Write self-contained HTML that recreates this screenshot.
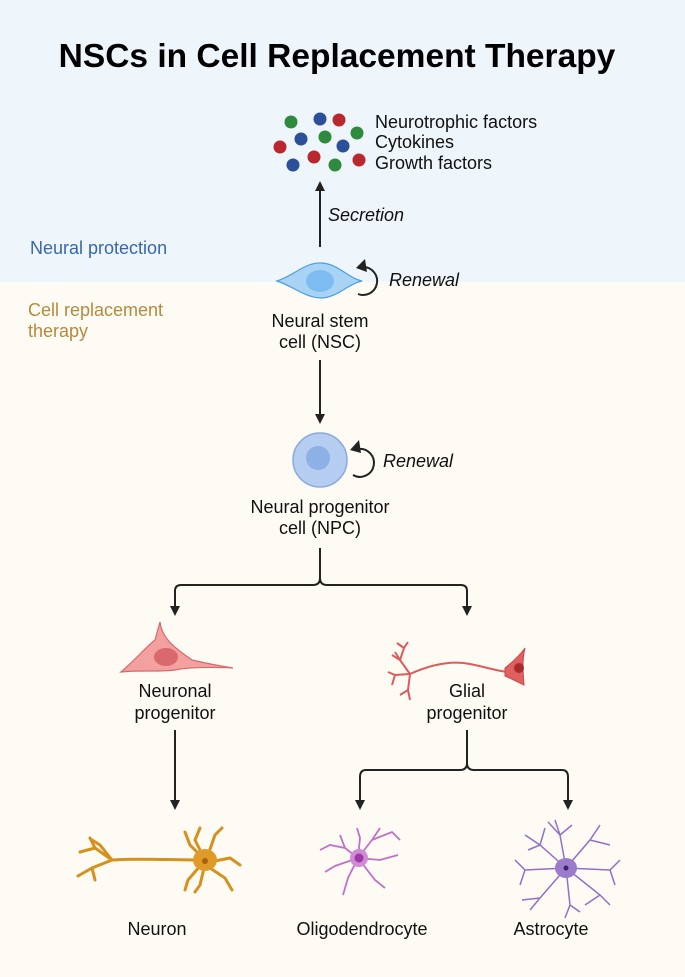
<!DOCTYPE html>
<html><head><meta charset="utf-8"><style>
html,body{margin:0;padding:0;width:685px;height:977px;overflow:hidden;background:#fdfbf3}
svg{display:block;font-family:"Liberation Sans",sans-serif}
</style></head><body>
<svg width="685" height="977" viewBox="0 0 685 977" xmlns="http://www.w3.org/2000/svg">
<defs><marker id="ah" viewBox="0 0 10 10" refX="8" refY="5" markerWidth="5" markerHeight="5" orient="auto-start-reverse"><path d="M0,0L10,5L0,10z" fill="#222"/></marker></defs>
<rect x="0" y="0" width="685" height="282" fill="#eef5fb"/>
<rect x="0" y="282" width="685" height="695" fill="#fdfbf3"/>
<text x="337" y="67" text-anchor="middle" font-size="33.5" font-weight="bold" fill="#000">NSCs in Cell Replacement Therapy</text>
<g stroke="none">
<circle cx="291" cy="122" r="6.5" fill="#2e8b3e"/><circle cx="320" cy="119" r="6.5" fill="#2c4f9a"/><circle cx="339" cy="120" r="6.5" fill="#b8282e"/>
<circle cx="301" cy="139" r="6.5" fill="#2c4f9a"/><circle cx="325" cy="137" r="6.5" fill="#2e8b3e"/><circle cx="357" cy="133" r="6.5" fill="#2e8b3e"/>
<circle cx="280" cy="147" r="6.5" fill="#b8282e"/><circle cx="343" cy="146" r="6.5" fill="#2c4f9a"/><circle cx="314" cy="157" r="6.5" fill="#b8282e"/>
<circle cx="293" cy="165" r="6.5" fill="#2c4f9a"/><circle cx="335" cy="165" r="6.5" fill="#2e8b3e"/><circle cx="359" cy="160" r="6.5" fill="#b8282e"/>
</g>
<g font-size="18" fill="#111"><text x="375" y="128">Neurotrophic factors</text><text x="375" y="148">Cytokines</text><text x="375" y="169">Growth factors</text></g>
<line x1="320" y1="247" x2="320" y2="183" stroke="#222" stroke-width="2" marker-end="url(#ah)"/>
<text x="328" y="221" font-size="18" font-style="italic" fill="#111">Secretion</text>
<text x="30" y="254" font-size="18" fill="#3a66ad">Neural protection</text>
<text x="28" y="316" font-size="18" fill="#b68a3c">Cell replacement</text>
<text x="28" y="337" font-size="18" fill="#b68a3c">therapy</text>
<!-- NSC -->
<path d="M277,281 C295,275 305,262 322,263 C338,264 348,278 362,281 C348,284 338,297 322,298 C305,298 295,287 277,281Z" fill="#a9d3f5" stroke="#4a9ee0" stroke-width="1.2"/>
<ellipse cx="320" cy="281" rx="14" ry="11" fill="#7cbcf1"/>
<path d="M364,267 A14,14 0 1 1 358,294" fill="none" stroke="#222" stroke-width="2"/>
<path d="M356,268 L365,259 L367,272Z" fill="#222"/>
<text x="389" y="286" font-size="18" font-style="italic" fill="#111">Renewal</text>
<text x="320" y="327" text-anchor="middle" font-size="18" fill="#111">Neural stem</text>
<text x="320" y="348" text-anchor="middle" font-size="18" fill="#111">cell (NSC)</text>
<line x1="320" y1="360" x2="320" y2="422" stroke="#222" stroke-width="2" marker-end="url(#ah)"/>
<!-- NPC -->
<circle cx="320" cy="460" r="27" fill="#b5cdf0" stroke="#8aaadd" stroke-width="1.5"/>
<circle cx="318" cy="458" r="12" fill="#8db0e6"/>
<path d="M358,449 A14,14 0 1 1 353,475" fill="none" stroke="#222" stroke-width="2"/>
<path d="M350,450 L359,440 L361,453Z" fill="#222"/>
<text x="383" y="467" font-size="18" font-style="italic" fill="#111">Renewal</text>
<text x="320" y="513" text-anchor="middle" font-size="18" fill="#111">Neural progenitor</text>
<text x="320" y="534" text-anchor="middle" font-size="18" fill="#111">cell (NPC)</text>
<path d="M320,548 V578 Q320,585 313,585 H181 Q175,585 175,591 V614" fill="none" stroke="#222" stroke-width="2" marker-end="url(#ah)"/>
<path d="M320,578 Q320,585 327,585 H461 Q467,585 467,591 V614" fill="none" stroke="#222" stroke-width="2" marker-end="url(#ah)"/>
<!-- Neuronal progenitor -->
<path d="M121,672 C135,660 145,648 155,640 L160,622 C162,640 178,650 192,660 C205,663 220,666 233,668 C210,667 190,667 175,670 C160,672 140,670 121,672Z" fill="#f2a0a0" stroke="#d66a6a" stroke-width="1.2"/>
<ellipse cx="166" cy="657" rx="12" ry="9" fill="#d9696c"/>
<text x="175" y="697" text-anchor="middle" font-size="18" fill="#111">Neuronal</text>
<text x="175" y="719" text-anchor="middle" font-size="18" fill="#111">progenitor</text>
<!-- Glial progenitor -->
<g stroke="#dc5c5c" stroke-width="2" fill="none">
<path d="M410,674 C430,665 450,660 470,664 C490,668 500,672 510,672"/>
<path d="M410,674 L400,660 L392,655 M400,660 L404,648 L408,642 M404,648 L397,643 M410,674 L395,675 L388,672 M395,675 L392,685 M410,674 L408,690 L410,700 M408,690 L400,695 M400,660 L395,652"/>
</g>
<path d="M505,668 C515,660 520,655 525,648 C522,660 523,672 524,685 C518,682 510,678 505,676Z" fill="#e05f5f" stroke="#c84848"/>
<circle cx="519" cy="668" r="5" fill="#a82a2a"/>
<text x="467" y="697" text-anchor="middle" font-size="18" fill="#111">Glial</text>
<text x="467" y="719" text-anchor="middle" font-size="18" fill="#111">progenitor</text>
<line x1="175" y1="730" x2="175" y2="808" stroke="#222" stroke-width="2" marker-end="url(#ah)"/>
<path d="M467,730 V763 Q467,770 460,770 H366 Q360,770 360,777 V808" fill="none" stroke="#222" stroke-width="2" marker-end="url(#ah)"/>
<path d="M467,763 Q467,770 474,770 H562 Q568,770 568,777 V808" fill="none" stroke="#222" stroke-width="2" marker-end="url(#ah)"/>
<!-- Neuron -->
<g stroke="#d6901e" stroke-width="3" fill="none" stroke-linecap="round">
<path d="M112,860 C140,858 170,860 200,860"/>
<path d="M112,860 L95,848 L90,838 M95,848 L80,852 M112,860 L92,868 L78,876 M92,868 L95,880 M112,860 L100,845 L92,840"/>
<path d="M205,860 L190,845 L185,832 M205,860 L195,840 L200,828 M208,855 L215,835 L222,828 M210,862 L230,858 L240,865 M207,866 L225,878 L232,890 M204,868 L200,885 L195,892 M200,866 L188,880 L185,890"/>
</g>
<ellipse cx="205" cy="860" rx="12" ry="11" fill="#e09a27"/>
<circle cx="205" cy="861" r="3" fill="#a86010"/>
<!-- Oligo -->
<g stroke="#c070c8" stroke-width="1.8" fill="none">
<path d="M358,858 L345,848 L330,845 L320,850 M345,848 L340,835 M358,858 L335,866 L325,872 M358,858 L348,878 L343,895 M358,858 L375,880 L385,888 M358,858 L380,860 L398,855 M358,858 L372,840 L380,828 M372,840 L392,832 L400,840 M358,858 L360,838 L357,828"/>
</g>
<circle cx="359" cy="858" r="9" fill="#d08ad6"/><circle cx="359" cy="858" r="4.5" fill="#9b3aa2"/>
<!-- Astrocyte -->
<g stroke="#9070c8" stroke-width="1.5" fill="none">
<path d="M566,868 L540,845 L525,835 M540,845 L545,828 M566,868 L560,835 L555,820 M560,835 L572,825 M566,868 L590,840 L600,825 M590,840 L610,845 M566,868 L610,870 L620,860 M610,870 L615,885 M566,868 L600,895 L610,905 M600,895 L585,905 M566,868 L570,905 L565,918 M570,905 L580,912 M566,868 L540,898 L530,910 M540,898 L522,900 M566,868 L525,870 L515,860 M525,870 L520,885 M540,845 L528,850 M560,835 L548,822"/>
</g>
<ellipse cx="566" cy="868" rx="11" ry="10" fill="#9b7ccc"/><circle cx="566" cy="868" r="2.5" fill="#3a2070"/>
<text x="157" y="935" text-anchor="middle" font-size="18" fill="#111">Neuron</text>
<text x="362" y="935" text-anchor="middle" font-size="18" fill="#111">Oligodendrocyte</text>
<text x="551" y="935" text-anchor="middle" font-size="18" fill="#111">Astrocyte</text>
</svg>
</body></html>
